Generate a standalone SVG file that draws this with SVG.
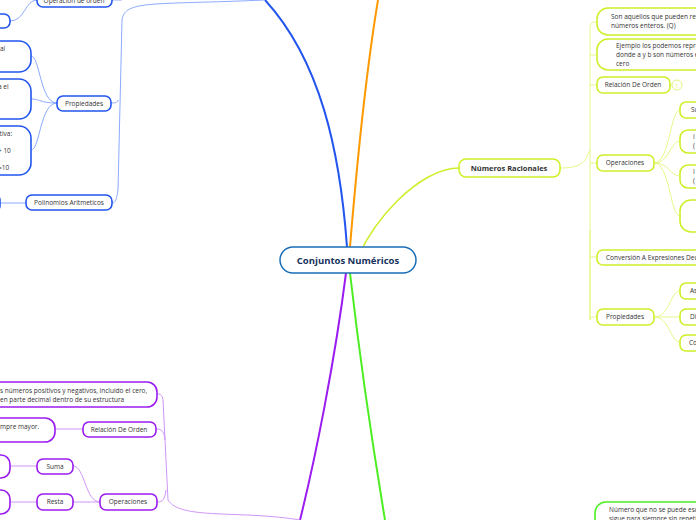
<svg xmlns="http://www.w3.org/2000/svg" width="696" height="520" viewBox="0 0 696 520">
<style>
text{font-family:"Open Sans","Liberation Sans",sans-serif;font-size:6.5px;fill:#333}
.b rect,rect.b{fill:#fff;stroke:#2255ee;stroke-width:1.6}
.y rect,rect.y{fill:#fff;stroke:#ccf02a;stroke-width:1.6}
.p rect,rect.p{fill:#fff;stroke:#9a1cf0;stroke-width:1.6}
.g rect{fill:#fff;stroke:#4cee22;stroke-width:1.6}
.c path{fill:none}
.lb{stroke:#7fa0ff;stroke-width:.9}
.ly{stroke:#e2f77a;stroke-width:.9}
.lp{stroke:#c98af5;stroke-width:.9}
</style>
<g class="c" id="connectors">
<path d="M347 247 C340 150 320 60 265 0" stroke="#2255ee" stroke-width="2"/>
<path d="M350 247 C358 150 368 60 378 0" stroke="#ff9900" stroke-width="2"/>
<path d="M352 272 C370 220 420 168 459 168" stroke="#ccf02a" stroke-width="1.6"/>
<path d="M350 273 C360 360 375 460 385 520" stroke="#4cee22" stroke-width="2"/>
<path d="M346 273 C335 360 315 460 300 520" stroke="#9a1cf0" stroke-width="2"/>
<path class="lb" d="M265 0 C150 5 125 0 122 20 L118 190 C116 203 114 203 112 203 M122 0 C118 0 115 0 112 0 M118 100 C118 103 114 103 111 103 M37 0 C25 0 25 21 10 21 M57 103 C40 103 40 56 31 56 M57 103 C40 103 40 99 31 99 M57 103 C40 103 40 150 31 150 M26 203 L0 203"/>
<path class="ly" d="M560 168 C585 168 585 160 590 150 L590 30 C590 22 592 22 597 22 M590 150 L590 320 C590 317 593 317 597 317 M590 55 L597 55 M590 85 L597 85 M590 163 L597 163 M590 257 L597 257 M654 163 C670 163 670 110 680 110 M654 163 C670 163 670 141 680 141 M654 163 C670 163 670 176 680 176 M654 163 C670 163 670 216 680 216 M654 317 C670 317 670 291 680 291 M654 317 L680 317 M654 317 C670 317 670 342 680 342 M670 85 L672 85"/>
<path class="ly" d="M590 230 L590 320"/>
<path class="lp" d="M300 520 C240 510 180 520 168 500 L163 400 C162 394 160 394 157 394 M165 440 C164 429 160 429 156 429 M166 490 C165 502 160 502 157 502 M83 429 L55 429 M100 502 C85 502 85 466 73 466 M100 502 L73 502 M37 466 L10 466 M37 502 L10 502"/>
</g>
<g id="center"><rect x="280" y="247" width="136" height="26" rx="13" fill="#fff" stroke="#1a6fb8" stroke-width="1.5"/><text x="348" y="264" text-anchor="middle" style="font-size:9.5px;font-weight:bold;fill:#17325c">Conjuntos Numéricos</text></g>
<g id="b1" class="b"><rect x="37" y="-8" width="75" height="15" rx="6"/><text x="74" y="3" text-anchor="middle">Operación de orden</text></g>
<g id="b2" class="b"><rect x="-10" y="14" width="20" height="14" rx="6"/></g>
<g id="b3" class="b"><rect x="-20" y="41" width="51" height="31" rx="12"/><text x="0" y="51">al</text></g>
<g id="b4" class="b"><rect x="-20" y="79" width="51" height="40" rx="12"/><text x="-2" y="89">a el</text></g>
<g id="b5" class="b"><rect x="-20" y="126" width="51" height="49" rx="12"/><text x="-4" y="136">ativa:</text><text x="-2" y="153">+ 10</text><text x="-2" y="170">=10</text></g>
<g id="b6" class="b"><rect x="57" y="96" width="54" height="15" rx="6"/><text x="84" y="106" text-anchor="middle">Propiedades</text></g>
<g id="b7" class="b"><rect x="26" y="195" width="86" height="15" rx="6"/><text x="69" y="205" text-anchor="middle">Polinomios Aritmeticos</text></g>
<g id="b8" class="b"><rect x="-10" y="196" width="10" height="14" rx="4"/></g>
<g id="y0" class="y"><rect x="459" y="159" width="101" height="18" rx="7"/><text x="509" y="171" text-anchor="middle" style="font-size:7.5px;font-weight:bold">Números  Racionales</text></g>
<g id="y1" class="y"><rect x="597" y="8" width="110" height="27" rx="11"/><text x="611" y="19">Son aquellos que pueden repre</text><text x="611" y="28">números enteros. (Q)</text></g>
<g id="y2" class="y"><rect x="597" y="39" width="110" height="31" rx="11"/><text x="616" y="48">Ejemplo los podemos represe</text><text x="616" y="57">donde a y b son números ent</text><text x="616" y="66">cero</text></g>
<g id="y3" class="y"><rect x="597" y="77" width="73" height="16" rx="6"/><text x="633" y="87" text-anchor="middle">Relación De Orden</text></g>
<g id="y3c"><circle cx="677" cy="85" r="5" fill="#fff" stroke="#e2f77a"/><text x="677" y="87.5" text-anchor="middle" style="font-size:6px;fill:#e2f77a">1</text></g>
<g id="y4" class="y"><rect x="597" y="155" width="57" height="16" rx="6"/><text x="625" y="165" text-anchor="middle">Operaciones</text></g>
<g id="y41" class="y"><rect x="680" y="102" width="30" height="16" rx="6"/><text x="691" y="112">Su</text></g>
<g id="y42" class="y"><rect x="680" y="130" width="30" height="23" rx="8"/><text x="693" y="139">I</text><text x="693" y="148">(</text></g>
<g id="y43" class="y"><rect x="680" y="165" width="30" height="23" rx="8"/><text x="693" y="174">I</text><text x="693" y="183">(</text></g>
<g id="y44" class="y"><rect x="680" y="200" width="30" height="32" rx="11"/></g>
<g id="y5" class="y"><rect x="597" y="250" width="110" height="15" rx="6"/><text x="606" y="260">Conversión A Expresiones Decim</text></g>
<g id="y6" class="y"><rect x="597" y="309" width="57" height="16" rx="6"/><text x="625" y="319" text-anchor="middle">Propiedades</text></g>
<g id="y61" class="y"><rect x="680" y="283" width="30" height="16" rx="6"/><text x="690" y="293">As</text></g>
<g id="y62" class="y"><rect x="680" y="309" width="30" height="16" rx="6"/><text x="690" y="319">Di</text></g>
<g id="y63" class="y"><rect x="680" y="335" width="30" height="16" rx="6"/><text x="689" y="345">Co</text></g>
<g id="g1" class="g"><rect x="595" y="502" width="115" height="30" rx="11"/><text x="609" y="512">Número que no se puede escri</text><text x="609" y="521">sigue para siempre sin repetirse</text></g>
<g id="p1" class="p"><rect x="-20" y="382" width="177" height="25" rx="10"/><text x="0" y="393">s números positivos y negativos, incluido el cero,</text><text x="0" y="402">en parte decimal dentro de su estructura</text></g>
<g id="p2" class="p"><rect x="-20" y="418" width="75" height="24" rx="10"/><text x="0" y="429">mpre mayor.</text></g>
<g id="p3" class="p"><rect x="83" y="422" width="73" height="15" rx="6"/><text x="119" y="432" text-anchor="middle">Relación De Orden</text></g>
<g id="p4" class="p"><rect x="37" y="459" width="36" height="15" rx="6"/><text x="55" y="469" text-anchor="middle">Suma</text></g>
<g id="p5" class="p"><rect x="-20" y="455" width="30" height="23" rx="9"/></g>
<g id="p6" class="p"><rect x="37" y="494" width="36" height="16" rx="6"/><text x="55" y="504" text-anchor="middle">Resta</text></g>
<g id="p7" class="p"><rect x="-20" y="490" width="30" height="24" rx="9"/></g>
<g id="p8" class="p"><rect x="100" y="494" width="57" height="16" rx="6"/><text x="128" y="504" text-anchor="middle">Operaciones</text></g>
</svg>
